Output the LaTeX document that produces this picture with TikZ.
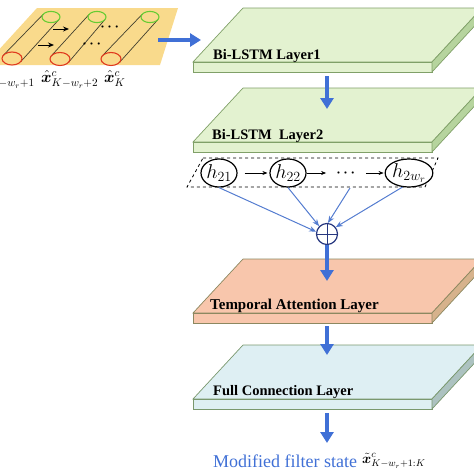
\RequirePackage{fix-cm}
\documentclass[tikz,border=0pt]{standalone}
\usepackage{amsmath,bm}
\usepackage{fontspec}
\setmainfont{Liberation Serif}
\usetikzlibrary{arrows.meta,shapes.geometric}
\definecolor{arrowblue}{RGB}{64,112,214}
\definecolor{lineblue}{RGB}{84,124,208}
\definecolor{panelyellow}{RGB}{249,218,140}
\definecolor{gtop}{RGB}{227,242,208}
\definecolor{gside}{RGB}{182,212,158}
\definecolor{gborder}{RGB}{128,160,104}
\definecolor{ttop}{RGB}{248,198,172}
\definecolor{tside}{RGB}{214,178,140}
\definecolor{tborder}{RGB}{140,136,96}
\definecolor{ftop}{RGB}{222,239,243}
\definecolor{fside}{RGB}{172,194,192}
\definecolor{fborder}{RGB}{122,152,110}
\definecolor{cylred}{RGB}{224,58,30}
\definecolor{cylgreen}{RGB}{102,204,51}
\definecolor{opblue}{RGB}{40,56,128}
\newcommand\drawslab[4]{%
  \filldraw[fill=#2,draw=#4,line width=0.7pt] (193,#1) -- (432,#1) -- (482,#1-54) -- (243,#1-54) -- cycle;
  \filldraw[fill=#2,draw=#4,line width=0.7pt] (193,#1) -- (432,#1) -- (432,#1+10) -- (193,#1+10) -- cycle;
  \filldraw[fill=#3,draw=#4,line width=0.7pt] (432,#1) -- (482,#1-54) -- (482,#1-44) -- (432,#1+10) -- cycle;
}
\newcommand\drawcyl[4]{%
  \draw[cylline] (#1-8.5,#2-3.4) -- (#3-7.6,#4-2.9);
  \draw[cylline] (#1+8.5,#2+3.4) -- (#3+7.6,#4+2.9);
  \draw[cylgreen,line width=1.1pt] (#3,#4) ellipse [x radius=9pt,y radius=5.6pt];
  \draw[cylred,line width=1.1pt] (#1,#2) ellipse [x radius=10pt,y radius=6.5pt];
}
\begin{document}
\begin{tikzpicture}[x=1pt,y=-1pt,
  bigarrow/.style={draw=arrowblue,line width=3.6pt,-{Triangle[length=11pt,width=13pt]}},
  thinblue/.style={draw=lineblue,line width=1pt,-{Stealth[length=7pt,width=5.5pt]}},
  smallarrow/.style={draw=black,line width=0.6pt,-{Stealth[length=5pt,width=4pt]}},
  panelarrow/.style={draw=black,line width=1pt,-{Stealth[length=6pt,width=5pt]}},
  cylline/.style={draw=black!70!olive,line width=0.7pt},
  layerlabel/.style={font=\fontsize{14.5}{16}\selectfont\bfseries,anchor=base west,inner sep=0pt},
  hnode/.style={draw,ellipse,line width=1.2pt,minimum width=32pt,minimum height=28pt,inner sep=0pt,fill=white},
  dotsnode/.style={inner sep=0pt,font=\fontsize{14}{16}\selectfont},
  xlabel/.style={anchor=base west,inner sep=0pt,font=\fontsize{16}{18}\selectfont}]
\useasboundingbox (0,0) rectangle (474,474);
\clip (0,0) rectangle (474,474);

% ---- input panel ----
\fill[panelyellow] (37,8) -- (178,8) -- (160,65) -- (-15,65) -- cycle;
\drawcyl{12}{58.5}{51}{17}
\drawcyl{60}{59}{97}{17}
\drawcyl{111}{59}{150}{17}
\coordinate (pa1s) at (53,29); \coordinate (pa1e) at (69,29);
\coordinate (pa2s) at (38,45); \coordinate (pa2e) at (54,45);
\draw[panelarrow] (pa1s) -- (pa1e);
\draw[panelarrow] (pa2s) -- (pa2e);
\node[dotsnode] (pd1) at (111,27) {$\bm{\cdots}$};
\node[dotsnode] (pd2) at (93,44) {$\bm{\cdots}$};
\node[xlabel,anchor=base east] (xl1) at (35,82) {$\hat{\bm{x}}^{c}_{K-w_r+1}$};
\node[xlabel] (xl2) at (41,82) {$\hat{\bm{x}}^{c}_{K-w_r+2}$};
\node[xlabel] (xl3) at (104,82) {$\hat{\bm{x}}^{c}_{K}$};

% ---- layers ----
\drawslab{62}{gtop}{gside}{gborder}
\drawslab{142}{gtop}{gside}{gborder}
\drawslab{313}{ttop}{tside}{tborder}
\drawslab{399}{ftop}{fside}{fborder}
\node[layerlabel] (lab1) at (213,59) {Bi-LSTM Layer1};
\node[layerlabel] (lab2) at (212,139) {Bi-LSTM\ \ Layer2};
\node[layerlabel,font=\fontsize{15}{16}\selectfont\bfseries] (lab3) at (210,309) {Temporal Attention Layer};
\node[layerlabel] (lab4) at (213,395) {Full Connection Layer};

% ---- hidden states ----
\draw[dashed,line width=0.8pt] (203,158) -- (438,158) -- (425,187) -- (187,187) -- cycle;
\node[hnode] (h21) at (219,173) {\fontsize{20}{21}\selectfont$h_{21}$};
\node[hnode] (h22) at (288,173) {\fontsize{20}{21}\selectfont$h_{22}$};
\node[dotsnode] (hd) at (347,173) {$\bm{\cdots}$};
\node[hnode] (h2w) at (409,173) {\fontsize{20}{21}\selectfont$h_{2w_r}$};
\draw[smallarrow,shorten <=7pt,shorten >=2pt] (h21.east) -- (h22.west);
\draw[smallarrow,shorten >=10pt] (h22.east) -- (hd.west);
\draw[smallarrow,shorten <=8pt,shorten >=1pt] (hd.east) -- (h2w.west);

\node[draw=opblue,circle,line width=1.2pt,minimum size=21pt,inner sep=0pt] (op) at (327,234) {};
\draw[opblue,line width=1pt] (op.north) -- (op.south);
\draw[opblue,line width=1pt] (op.west) -- (op.east);
\coordinate (hdb) at (350,188);
\draw[thinblue] (h21.south) -- (op.168);
\draw[thinblue] (h22.south) -- (op.135);
\draw[thinblue] (hdb) -- (op.85);
\draw[thinblue] (h2w.245) -- (op.38);

% ---- thick arrows ----
\coordinate (inA) at (158,40); \coordinate (inB) at (201,40);
\coordinate (l1out) at (327,76); \coordinate (l2in) at (327,109);
\coordinate (tain) at (327,281);
\coordinate (taout) at (327,326); \coordinate (fcin) at (327,355);
\coordinate (fcout) at (327,413); \coordinate (outp) at (327,443);
\draw[bigarrow] (inA) -- (inB);
\draw[bigarrow] (l1out) -- (l2in);
\draw[bigarrow] (op.south) -- (tain);
\draw[bigarrow] (taout) -- (fcin);
\draw[bigarrow] (fcout) -- (outp);

% ---- output ----
\node[anchor=base west,inner sep=0pt,text=arrowblue,font=\fontsize{18}{20}\selectfont] (outtxt) at (213,467) {Modified filter state};
\node[anchor=base west,inner sep=0pt,font=\fontsize{14}{16}\selectfont] (outmath) at (362,463) {$\tilde{\bm{x}}^{c}_{K-w_r+1:K}$};
\end{tikzpicture}
\end{document}
